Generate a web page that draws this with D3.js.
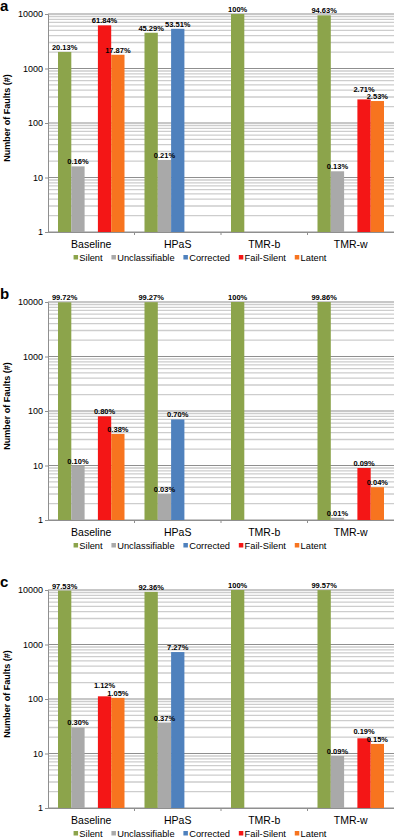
<!DOCTYPE html>
<html>
<head>
<meta charset="utf-8">
<script src="https://cdn.jsdelivr.net/npm/d3@7/dist/d3.min.js"></script>
<style>
  body { margin: 0; background: #fff; }
  svg { display: block; font-family: 'Liberation Sans', Arial, sans-serif; }
</style>
</head>
<body>
<div id="chart"></div>
<script>
/* globals d3 */

const categories = ['Baseline', 'HPaS', 'TMR-b', 'TMR-w']
const seriesNames = ['Silent', 'Unclassifiable', 'Corrected', 'Fail-Silent', 'Latent']
const seriesColors = ['#8ca44b', '#a9a9a9', '#4f81bd', '#f41616', '#f7741f']
const yTicks = [1, 10, 100, 1000, 10000]
const panelLetters = ['a', 'b', 'c']

// counts per category, columns follow seriesNames (null = no bar)
const countsA = [
  [2013, 16, null, 6184, 1787],
  [4529, 21, 5351, null, null],
  [10000, null, null, null, null],
  [9463, 13, null, 271, 253]
]
const pctA = [
  ['20.13%', '0.16%', null, '61.84%', '17.87%'],
  ['45.29%', '0.21%', '53.51%', null, null],
  ['100%', null, null, null, null],
  ['94.63%', '0.13%', null, '2.71%', '2.53%']
]

const countsB = [
  [9872, 10, null, 80, 38],
  [9927, 3, 70, null, null],
  [10000, null, null, null, null],
  [9986, 1.1, null, 9, 4]
]
const pctB = [
  ['99.72%', '0.10%', null, '0.80%', '0.38%'],
  ['99.27%', '0.03%', '0.70%', null, null],
  ['100%', null, null, null, null],
  ['99.86%', '0.01%', null, '0.09%', '0.04%']
]

const countsC = [
  [9753, 30, null, 112, 105],
  [9236, 37, 727, null, null],
  [10000, null, null, null, null],
  [9957, 9, null, 19, 15]
]
const pctC = [
  ['97.53%', '0.30%', null, '1.12%', '1.05%'],
  ['92.36%', '0.37%', '7.27%', null, null],
  ['100%', null, null, null, null],
  ['99.57%', '0.09%', null, '0.19%', '0.15%']
]

const panels = [
  { counts: countsA, pct: pctA },
  { counts: countsB, pct: pctB },
  { counts: countsC, pct: pctC }
]

const W = 394
const H = 838
const left = 48
const panelStep = 288
const plotTop = 14
const plotH = 218

let svg = d3.select('#chart').append('svg').attr('width', W).attr('height', H)

let x0 = d3.scaleBand().domain(categories).range([left, W])
let x1 = d3.scaleBand().domain(seriesNames).range([10, x0.bandwidth() - 10])
let color = d3.scaleOrdinal().domain(seriesNames).range(seriesColors)

panels.forEach(function (p, pi) {
  let top = plotTop + pi * panelStep
  let y = d3.scaleLog().domain([1, 10000]).range([top + plotH, top])
  let g = svg.append('g')

  // grid
  let grid = y.ticks()
  g.append('g').selectAll('line')
    .data(grid.filter((d) => !Number.isInteger(Math.log10(d))))
    .enter().append('line')
      .attr('x1', left).attr('x2', W)
      .attr('y1', (d) => y(d)).attr('y2', (d) => y(d))
      .attr('stroke', '#cdcdcd').attr('stroke-width', 1.3)
  g.append('g').selectAll('line')
    .data(yTicks)
    .enter().append('line')
      .attr('x1', left).attr('x2', W)
      .attr('y1', (d) => y(d)).attr('y2', (d) => y(d))
      .attr('stroke', '#8f8f8f').attr('stroke-width', 1)

  // y axis
  let yAxis = g.append('g')
    .attr('transform', 'translate(' + left + ',0)')
    .call(d3.axisLeft(y).tickValues(yTicks).tickFormat(d3.format('d')).tickSize(3).tickPadding(2))
  yAxis.select('.domain').attr('stroke', '#8f8f8f')
  yAxis.selectAll('.tick line').attr('stroke', '#8f8f8f')
  yAxis.selectAll('text').attr('font-size', 9).attr('fill', '#000')
    .attr('font-family', "'Liberation Sans', Arial, sans-serif")

  // x axis
  let xAxis = g.append('g')
    .attr('transform', 'translate(0,' + (top + plotH) + ')')
    .call(d3.axisBottom(x0).tickSize(0).tickPadding(9))
  xAxis.select('.domain').attr('stroke', '#8f8f8f')
  xAxis.selectAll('text').attr('font-size', 10.5).attr('fill', '#000')
    .attr('font-family', "'Liberation Sans', Arial, sans-serif")
  xAxis.selectAll('.sep')
    .data(categories.slice(1))
    .enter().append('line')
      .attr('class', 'sep')
      .attr('x1', (d) => x0(d)).attr('x2', (d) => x0(d))
      .attr('y1', 0).attr('y2', 3)
      .attr('stroke', '#8f8f8f')

  // bars
  let bars = []
  p.counts.forEach(function (row, ci) {
    row.forEach(function (v, si) {
      if (v === null) return
      bars.push({ cat: categories[ci], ci: ci, s: seriesNames[si], v: v, label: p.pct[ci][si] })
    })
  })

  g.append('g').selectAll('rect')
    .data(bars)
    .enter().append('rect')
      .attr('x', (d) => x0(d.cat) + x1(d.s))
      .attr('width', x1.bandwidth())
      .attr('y', (d) => y(d.v))
      .attr('height', (d) => y(1) - y(d.v))
      .attr('fill', (d) => color(d.s))

  // value labels, nudged up when they collide with a neighbour
  let labels = g.append('g').selectAll('text')
    .data(bars)
    .enter().append('text')
      .attr('text-anchor', 'middle')
      .attr('font-size', 7.5)
      .attr('font-weight', 'bold')
      .attr('fill', '#000')
      .text((d) => d.label)

  let placed = []
  labels.nodes().slice().reverse().forEach(function (node) {
    let d = d3.select(node).datum()
    let cx = x0(d.cat) + x1(d.s) + x1.bandwidth() / 2
    let w = node.getComputedTextLength()
    let base = y(d.v) - 2
    let capH = 6
    placed.forEach(function (b) {
      if (b.ci !== d.ci) return
      let hOver = Math.abs(b.cx - cx) < (b.w + w) / 2
      let vOver = base > b.base - capH && base - capH < b.base
      if (hOver && vOver) base = b.base - capH - 1.5
    })
    placed.push({ ci: d.ci, cx: cx, w: w, base: base })
    d3.select(node).attr('x', cx).attr('y', base)
  })

  // y title
  g.append('text')
    .attr('transform', 'translate(9.5,' + (top + plotH / 2 - 5) + ') rotate(-90)')
    .attr('text-anchor', 'middle')
    .attr('font-size', 9)
    .attr('font-weight', 'bold')
    .text('Number of Faults (#)')

  // panel letter
  g.append('text')
    .attr('x', 0)
    .attr('y', top - 3.5)
    .attr('font-size', 15)
    .attr('font-weight', 'bold')
    .text(panelLetters[pi])

  // legend
  let leg = g.append('g').attr('transform', 'translate(0,' + (top + plotH + 28.5) + ')')
  let items = leg.selectAll('g')
    .data(seriesNames)
    .enter().append('g')
  items.append('rect')
    .attr('y', -5.5).attr('width', 4.5).attr('height', 4.5)
    .attr('fill', (d) => color(d))
  items.append('text')
    .attr('x', 5.8)
    .attr('font-size', 9.3)
    .text((d) => d)
  let widths = items.nodes().map((n) => 5.8 + d3.select(n).select('text').node().getComputedTextLength())
  let gap = 8.8
  let total = d3.sum(widths) + gap * (widths.length - 1)
  let cx = 200 - total / 2
  items.each(function (d, i) {
    d3.select(this).attr('transform', 'translate(' + cx + ',0)')
    cx += widths[i] + gap
  })
})
</script>
</body>
</html>
